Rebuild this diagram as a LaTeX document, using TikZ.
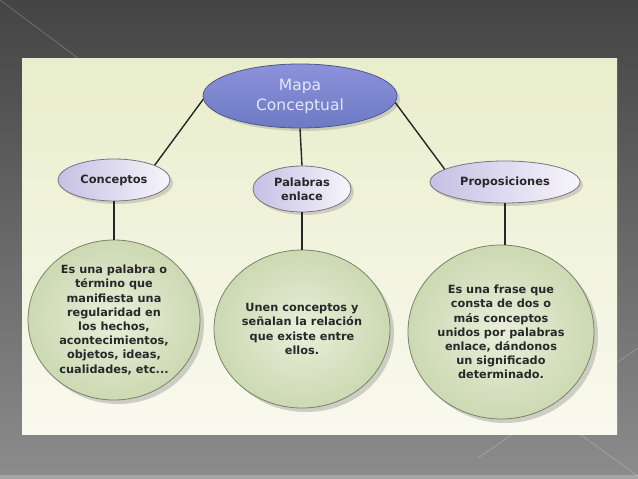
\documentclass[tikz,border=0pt]{standalone}
\usepackage{fontspec}
\setmainfont{DejaVu Sans}
\usetikzlibrary{shapes.geometric,shadows}
\definecolor{fondoA}{RGB}{68,68,68}
\definecolor{fondoB}{RGB}{140,140,140}
\definecolor{hojaA}{RGB}{233,238,204}
\definecolor{hojaB}{RGB}{249,249,238}
\definecolor{azulA}{RGB}{140,146,218}
\definecolor{azulB}{RGB}{108,122,196}
\definecolor{lilaA}{RGB}{198,192,228}
\definecolor{lilaB}{RGB}{247,245,251}
\definecolor{verdeA}{RGB}{234,238,218}
\definecolor{verdeB}{RGB}{204,217,178}
\definecolor{texto}{RGB}{40,40,42}
\definecolor{linea}{RGB}{38,38,38}
\tikzset{
  mapa/.style={ % title ellipse on top
    ellipse, draw={rgb,255:red,78;green,88;blue,140}, thick,
    top color=azulA, bottom color=azulB,
    minimum width=194pt, minimum height=64pt, inner sep=0pt,
    text={rgb,255:red,228;green,232;blue,246}, align=center,
    font=\fontsize{15.5}{20}\selectfont,
    drop shadow={opacity=0.3, shadow xshift=3pt, shadow yshift=-3pt}
  },
  tema/.style={ % small lilac ellipses
    ellipse, draw={rgb,255:red,120;green,116;blue,132}, thick,
    left color=lilaA, right color=lilaB,
    minimum height=42pt, inner sep=0pt, text=texto, align=center,
    font=\fontsize{11.4}{13.5}\selectfont\bfseries,
    drop shadow={opacity=0.3, shadow xshift=3pt, shadow yshift=-3pt}
  },
  globo/.style={ % big green circles
    ellipse, draw={rgb,255:red,120;green,132;blue,104}, thick,
    inner color=verdeA, outer color=verdeB,
    inner sep=0pt, text=texto, align=center,
    font=\fontsize{11.3}{14.2}\selectfont\bfseries,
    drop shadow={opacity=0.35, shadow xshift=4pt, shadow yshift=-4pt}
  },
  enlace/.style={
    draw=linea, line width=1.4pt
  },
  adorno/.style={
    draw=white, opacity=0.22, line width=0.8pt
  }
}

\begin{document}
\begin{tikzpicture}[x=1pt, y=-1pt]
  \useasboundingbox (0,0) rectangle (638,479);
  % slide background
  \shade[top color=fondoA, bottom color=fondoB] (0,0) rectangle (638,479);
  \fill[gray!70] (0,475) rectangle (638,479);
  \draw[adorno] (0,0) -- (110,82);
  \draw[adorno] (478,458) -- (638,348);
  \draw[adorno] (560,420) -- (638,476);
  % panel
  \shade[top color=hojaA, bottom color=hojaB] (22,58) rectangle (617,434);

  \node[mapa] (mapa) at (300,96) {Mapa\\Conceptual};
  \node[tema, minimum width=112pt] (conc) at (114,180) {Conceptos};
  \node[tema, minimum width=98pt, minimum height=46pt] (pal) at (302,189) {Palabras\\enlace};
  \node[tema, minimum width=150pt] (prop) at (505,182) {Proposiciones};

  \node[globo, minimum width=172pt, minimum height=160pt] (dconc) at (114,320)
    {Es una palabra o\\término que\\manifiesta una\\regularidad en\\los hechos,\\acontecimientos,\\objetos, ideas,\\cualidades, etc...};
  \node[globo, minimum width=176pt, minimum height=158pt] (dpal) at (302,329)
    {Unen conceptos y\\señalan la relación\\que existe entre\\ellos.};
  \node[globo, minimum width=186pt, minimum height=174pt] (dprop) at (501,332)
    {Es una frase que\\consta de dos o\\más conceptos\\unidos por palabras\\enlace, dándonos\\un significado\\determinado.};

  \draw[enlace] (mapa.182) -- (conc.20);
  \draw[enlace] (mapa.south) -- (pal.north);
  \draw[enlace] (mapa.356) -- (prop.168);
  \draw[enlace] (conc.south) -- (conc.south |- dconc.north);
  \draw[enlace] (pal.south) -- (pal.south |- dpal.north);
  \draw[enlace] (prop.south) -- (prop.south |- dprop.north);
\end{tikzpicture}
\end{document}
